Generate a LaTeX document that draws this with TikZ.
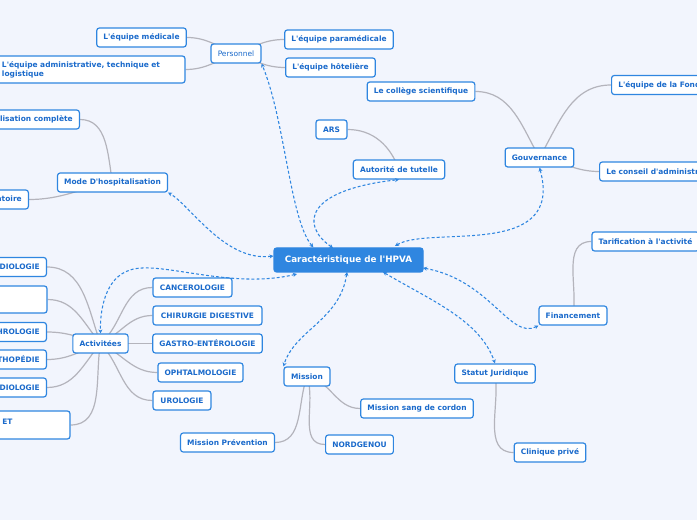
\documentclass[tikz,border=0pt]{standalone}
\usepackage{fontspec}
\setmainfont{DejaVu Sans}
\usetikzlibrary{arrows.meta}
\definecolor{bg}{HTML}{F2F5FD}
\definecolor{bl}{HTML}{2F86E0}
\definecolor{bt}{HTML}{1A6ACB}
\definecolor{gl}{HTML}{B4B4BC}
\newcommand\aq{\textquotesingle}
\pgfdeclarelayer{conn}\pgfsetlayers{conn,main}
\tikzset{
 box/.style={draw=bl,line width=0.9pt,rounded corners=2pt,fill=white,text=bt,font=\bfseries\fontsize{5.6}{6.6}\selectfont,minimum height=14.25pt,inner xsep=5pt,inner ysep=1pt},
 gline/.style={draw=gl,line width=0.9pt},
 dline/.style={draw=bl,line width=0.8pt,dashed,dash pattern=on 2.2pt off 1.6pt,{Stealth[length=3pt,width=3pt]}-{Stealth[length=3pt,width=3pt]}},
}
\begin{document}
\begin{tikzpicture}[x=0.75pt,y=-0.75pt]
\begin{pgfonlayer}{conn}
\fill[bg] (0,0) rectangle (697,520);
\end{pgfonlayer}
\useasboundingbox (0,0) rectangle (697,520);
\clip (0,0) rectangle (697,520);
\node[box,fill=bl,text=white,draw=bl,minimum width=111.75pt,minimum height=18pt,font=\bfseries\fontsize{6.6}{8}\selectfont] (c) at (348.5,260) {Caractéristique de l\aq HPVA};
\node[box,minimum width=37.5pt,font=\fontsize{5.6}{6.6}\selectfont] (pers) at (236,53.5) {Personnel};
\node[box,minimum width=65.25pt] (med) at (141.5,37.5) {L\aq équipe médicale};
\node[box,minimum width=142.5pt,minimum height=20.25pt,text width=132pt,align=left] (adm) at (90,69.5) {\hspace*{0pt}L\aq équipe administrative, technique et\\logistique};
\node[box,minimum width=78pt] (para) at (339,39.5) {L\aq équipe paramédicale};
\node[box,minimum width=65.25pt] (hot) at (330.5,67.5) {L\aq équipe hôtelière};
\node[box,minimum width=78pt] (col) at (421,91.5) {Le collège scientifique};
\node[box,anchor=west] (fon) at (611,85) {L\aq équipe de la Fondation};
\node[box,anchor=west] (cons) at (599,171.5) {Le conseil d\aq administration};
\node[box,minimum width=50.25pt] (gouv) at (539.5,157.5) {Gouvernance};
\node[box,minimum width=23.25pt] (ars) at (331.5,129.5) {ARS};
\node[box,minimum width=66pt] (aut) at (399,169.5) {Autorité de tutelle};
\node[box,anchor=east] (hc) at (80,119.5) {Hospitalisation complète};
\node[box,minimum width=78.75pt] (mode) at (112.5,182.5) {Mode D\aq hospitalisation};
\node[box,anchor=east] (amb) at (29,199.5) {Hospitalisation ambulatoire};
\node[box,minimum width=77.25pt] (tar) at (645.5,241.5) {Tarification à l\aq activité};
\node[box,minimum width=49.5pt] (fin) at (573,315.5) {Financement};
\node[box,minimum width=60pt] (stat) at (495,373.5) {Statut Juridique};
\node[box,minimum width=52.5pt] (cli) at (550,452.5) {Clinique privé};
\node[box,minimum width=34.5pt] (mis) at (307,376.5) {Mission};
\node[box,minimum width=81pt] (sang) at (417,408.5) {Mission sang de cordon};
\node[box,minimum width=50.25pt] (nord) at (359.5,444.5) {NORDGENOU};
\node[box,minimum width=68.25pt] (prev) at (227.5,442.5) {Mission Prévention};
\node[box,minimum width=41.25pt] (act) at (100.5,343.5) {Activitées};
\node[box,minimum width=59.25pt] (canc) at (192.5,287.5) {CANCEROLOGIE};
\node[box,minimum width=81.75pt] (chir) at (207.5,315.5) {CHIRURGIE DIGESTIVE};
\node[box,minimum width=81.75pt] (gast) at (207.5,343.5) {GASTRO-ENTÉROLOGIE};
\node[box,minimum width=63.75pt] (oph) at (200.5,372.5) {OPHTALMOLOGIE};
\node[box,minimum width=43.5pt] (uro) at (182,400.5) {UROLOGIE};
\node[box,anchor=east] (card) at (47,267) {CARDIOLOGIE};
\node[box,minimum width=42.75pt,minimum height=20.25pt] (blank) at (18.5,299.5) {};
\node[box,anchor=east] (neph) at (47,332) {NEPHROLOGIE};
\node[box,anchor=east] (orth) at (47,359.5) {ORTHOPÉDIE};
\node[box,anchor=east] (radi) at (47,387.5) {RADIOLOGIE};
\node[box,minimum width=60pt,minimum height=21pt] (etb) at (30,425) {};
\node[text=bt,font=\bfseries\fontsize{5.6}{6.6}\selectfont,anchor=west,inner sep=0pt] (et) at (2,422) {ET};
\begin{pgfonlayer}{conn}
\draw[gline] (pers.center) to[out=160,in=0] (med.east);
\draw[gline] (pers.center) to[out=200,in=0] (adm.east);
\draw[gline] (pers.center) to[out=20,in=180] (para.west);
\draw[gline] (pers.center) to[out=-20,in=180] (hot.west);
\draw[gline] (gouv.center) to[out=120,in=0] (col.east);
\draw[gline] (gouv.center) to[out=60,in=180] (fon.west);
\draw[gline] (gouv.center) to[out=-10,in=180] (cons.west);
\draw[gline] (aut.center) to[out=110,in=0] (ars.east);
\draw[gline] (mode.center) to[out=100,in=0] (hc.east);
\draw[gline] (mode.center) to[out=190,in=0] (amb.east);
\draw[gline] (fin.center) to[out=80,in=180] (tar.west);
\draw[gline] (stat.center) to[out=-80,in=180] (cli.west);
\draw[gline] (mis.center) to[out=-10,in=180] (sang.west);
\draw[gline] (mis.center) to[out=-70,in=180] (nord.west);
\draw[gline] (mis.center) to[out=-110,in=0] (prev.east);
\foreach \t/\a in {canc/40,chir/25,gast/0,oph/-25,uro/-45}
  \draw[gline] (act.center) to[out=\a,in=180] (\t.west);
\foreach \t/\a in {card/110,blank/130,neph/165,orth/200,radi/230,etb/260}
  \draw[gline] (act.center) to[out=\a,in=0] (\t.east);
\end{pgfonlayer}
\draw[dline] (c.north west) ++(40,0) .. controls (290,220) and (285,120) .. (pers.south east);
\draw[dline] (c.west) ++(0,-4) .. controls (225,262) and (190,205) .. (mode.south east);
\draw[dline] (333,248) .. controls (300,225) and (305,190) .. (aut.south);
\draw[dline] (395,246) .. controls (430,225) and (565,260) .. (gouv.south);
\draw[dline] (297,274) .. controls (230,290) and (160,260) .. (130,270) .. controls (105,278) and (100,310) .. (act.north);
\draw[dline] (347,272) .. controls (340,320) and (295,330) .. (mis.north west);
\draw[dline] (383,272) .. controls (430,300) and (480,320) .. (stat.north);
\draw[dline] (423,268) .. controls (490,280) and (510,340) .. (fin.south west);
\end{tikzpicture}
\end{document}
